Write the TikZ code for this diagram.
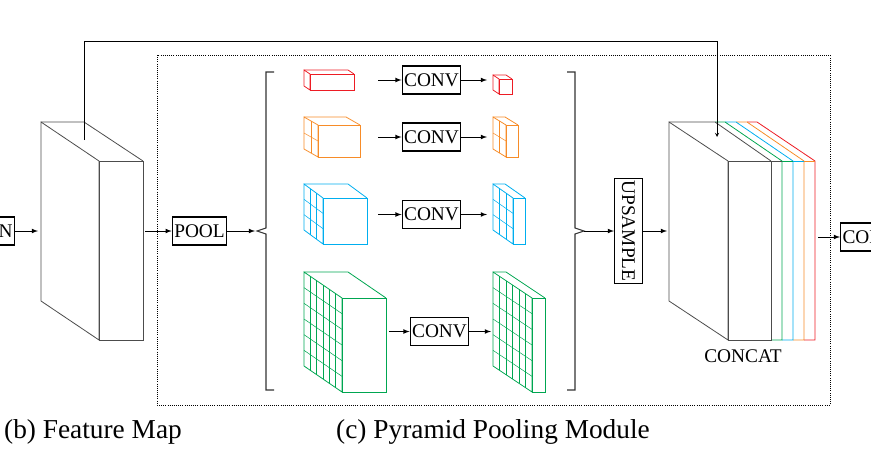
\documentclass[tikz,border=0pt]{standalone}
\usepackage{fontspec}
\setmainfont{Liberation Serif}
\definecolor{pred}{RGB}{237,28,36}
\definecolor{porange}{RGB}{247,140,40}
\definecolor{pblue}{RGB}{0,174,239}
\definecolor{pgreen}{RGB}{0,166,81}
\tikzset{op/.style = {draw, thick, rectangle, inner sep=1.5pt, minimum height=21pt, font=\fontsize{14.5}{16}\selectfont}}
\tikzset{flow/.style = {->, >=latex, semithick}}
\tikzset{caption/.style = {font=\fontsize{20.5}{24}\selectfont}}
% cuboid: colour, left, top, dx, dy, width, height, cells
\newcommand{\pcube}[8]{%
  \draw[#1, semithick] (#2,#3) -- (#2+#6,#3) -- (#2+#4+#6,#3+#5);
  \draw[#1, semithick] (#2,#3) -- (#2+#4,#3+#5) -- (#2+#4,#3+#5+#7) -- (#2,#3+#7) -- cycle;
  \draw[#1, semithick] (#2+#4,#3+#5) rectangle (#2+#4+#6,#3+#5+#7);
  \ifnum#8>1
  \foreach \i in {1,...,\numexpr#8-1\relax} {
    \draw[#1] (#2+\i*#4/#8,#3+\i*#5/#8) -- ++(0,#7);
    \draw[#1] (#2,#3+\i*#7/#8) -- ++(#4,#5);
  }
  \fi
}
\begin{document}
\begin{tikzpicture}[x=0.75pt,y=-0.75pt]
\useasboundingbox (0,0) rectangle (871,454);
\clip (0,0) rectangle (871,454);

% feature map
\draw[semithick, black!70] (41,122) -- (84,122) -- (143,161);
\draw[semithick, black!70] (41,122) -- (99,161) -- (99,340) -- (41,301) -- cycle;
\draw[semithick, black!70] (99,161) rectangle (143,340);
\coordinate (fmtop) at (84,140);
\coordinate (fmin) at (38,231);
\coordinate (fmout) at (145,231);

\node[op, anchor=east] (cnn) at (15,231) {CNN};
\path[flow] (cnn) edge (fmin);

% pyramid pooling module
\draw[densely dotted, semithick] (157,55) rectangle (830,405);
\node[op] (pool) at (199.5,231) {POOL};
\path[flow] (fmout) edge (pool);

\draw[thick, black!80] (274,72) -- (266,72) -- (266,228) -- (257,231) -- (266,234) -- (266,390) -- (274,390);
\draw[thick, black!80] (567,72) -- (575,72) -- (575,228) -- (584,231) -- (575,234) -- (575,390) -- (567,390);
\coordinate (brl) at (255,231);
\coordinate (brr) at (584,231);
\path[flow] (pool) edge (brl);

\pcube{pred}{304}{70}{6}{4}{44}{16}{1}
\pcube{pred}{493}{75}{6}{4}{13}{15}{1}
\pcube{porange}{304}{117}{14}{8}{42}{32}{2}
\pcube{porange}{493}{117}{13}{8}{12}{32}{2}
\pcube{pblue}{304}{184}{19}{14}{44}{46}{3}
\pcube{pblue}{493}{184}{20}{14}{12}{46}{3}
\pcube{pgreen}{304}{272}{38}{26}{44}{94}{6}
\pcube{pgreen}{493}{272}{39}{26}{13}{94}{6}

\node[op] (conv1) at (431.5,80) {CONV};
\node[op] (conv2) at (431.5,137) {CONV};
\node[op] (conv3) at (431.5,214.5) {CONV};
\node[op] (conv4) at (439.5,331.5) {CONV};
\coordinate (in1) at (378,80);
\coordinate (in2) at (378,137);
\coordinate (in3) at (378,214.5);
\coordinate (in4) at (389,331.5);
\coordinate (out1) at (487,80);
\coordinate (out2) at (487,137);
\coordinate (out3) at (487,214.5);
\coordinate (out4) at (491,331.5);
\path[flow] (in1) edge (conv1);
\path[flow] (in2) edge (conv2);
\path[flow] (in3) edge (conv3);
\path[flow] (in4) edge (conv4);
\path[flow] (conv1) edge (out1);
\path[flow] (conv2) edge (out2);
\path[flow] (conv3) edge (out3);
\path[flow] (conv4) edge (out4);

\node[op, rotate=-90] (up) at (628.5,231) {UPSAMPLE};
\path[flow] (brr) edge (up);

% concat
\draw[pred, semithick] (747,122) -- (757,122) -- (815,161) -- (815,340) -- (804,340);
\draw[porange, semithick] (736,122) -- (747,122) -- (804,161) -- (804,340) -- (793,340);
\draw[porange, semithick] (804,161) -- (815,161);
\draw[pblue, semithick] (725,122) -- (736,122) -- (793,161) -- (793,340) -- (782,340);
\draw[pblue, semithick] (793,161) -- (804,161);
\draw[pgreen, semithick] (715,122) -- (725,122) -- (782,161) -- (782,340) -- (771,340);
\draw[pgreen, semithick] (782,161) -- (793,161);
\draw[semithick, black!70] (771,161) -- (782,161);
\draw[semithick, black!70] (669,122) -- (715,122) -- (771,161);
\draw[semithick, black!70] (669,122) -- (728,161) -- (728,340) -- (669,301) -- cycle;
\draw[semithick, black!70] (728,161) rectangle (771,340);
\coordinate (ccin) at (667,231);
\coordinate (ccout) at (818,237);
\coordinate (cctop) at (717,137);
\node[font=\fontsize{14.5}{16}\selectfont] (cclab) at (743,356) {CONCAT};
\path[flow] (up) edge (ccin);

\node[op, anchor=west] (conv5) at (840,237) {CONV};
\path[flow] (ccout) edge (conv5);

% skip connection
\draw[->, >=stealth] (fmtop) -- (84,41) -- (717,41) -- (cctop);

\node[caption] (capb) at (93,432) {(b) Feature Map};
\node[caption] (capc) at (493,432) {(c) Pyramid Pooling Module};
\end{tikzpicture}
\end{document}
